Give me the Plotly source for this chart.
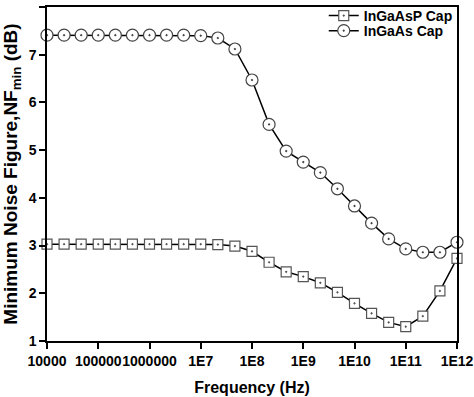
import plotly.graph_objects as go

freq = [1e4, 2.154e4, 4.642e4, 1e5, 2.154e5, 4.642e5, 1e6, 2.154e6, 4.642e6,
        1e7, 2.154e7, 4.642e7, 1e8, 2.154e8, 4.642e8, 1e9, 2.154e9, 4.642e9,
        1e10, 2.154e10, 4.642e10, 1e11, 2.154e11, 4.642e11, 1e12]

ingaasp = [3.03, 3.03, 3.03, 3.03, 3.03, 3.03, 3.03, 3.03, 3.03, 3.03, 3.02,
           2.99, 2.88, 2.65, 2.45, 2.35, 2.22, 2.02, 1.79, 1.58, 1.39, 1.30,
           1.52, 2.05, 2.73]

ingaas = [7.41, 7.41, 7.41, 7.41, 7.41, 7.41, 7.41, 7.41, 7.41, 7.40, 7.35,
          7.12, 6.47, 5.54, 4.98, 4.75, 4.53, 4.19, 3.83, 3.47, 3.14, 2.93,
          2.86, 2.86, 3.07]

tick_vals = [1e4, 1e5, 1e6, 1e7, 1e8, 1e9, 1e10, 1e11, 1e12]
tick_text = ["10000", "100000", "1000000", "1E7", "1E8", "1E9", "1E10", "1E11", "1E12"]

font_family = "Liberation Sans, Arial, sans-serif"

fig = go.Figure()
fig.add_trace(go.Scatter(
    x=freq, y=ingaasp, mode="lines+markers", name="<b>InGaAsP Cap</b>",
    line=dict(color="black", width=1.5),
    marker=dict(symbol="square-dot", size=10, color="white",
                line=dict(color="#555555", width=1.2)),
    cliponaxis=False, legend="legend",
))
fig.add_trace(go.Scatter(
    x=freq, y=ingaas, mode="lines+markers", name="<b>InGaAs Cap</b>",
    line=dict(color="black", width=1.5),
    marker=dict(symbol="circle-dot", size=12, color="white",
                line=dict(color="#444444", width=1.2)),
    cliponaxis=False, legend="legend2",
))

leg_common = dict(x=0.675, xanchor="left", yanchor="middle",
                  bgcolor="rgba(0,0,0,0)", font=dict(size=14),
                  itemwidth=30)

fig.update_layout(
    width=474, height=397,
    margin=dict(l=47, r=17, t=7, b=56, autoexpand=False),
    paper_bgcolor="white", plot_bgcolor="white",
    font=dict(family=font_family, color="black", size=14),
    showlegend=True,
    legend=dict(y=0.973, **leg_common),
    legend2=dict(y=0.928, **leg_common),
)
fig.update_xaxes(
    type="log", range=[4, 12], automargin=False, tickangle=0,
    tickvals=tick_vals, ticktext=["<b>%s</b>" % t for t in tick_text],
    ticks="outside", ticklen=6, tickwidth=1.5, tickcolor="black",
    showline=True, linecolor="black", linewidth=1.5, mirror=True,
    showgrid=False, zeroline=False,
    tickfont=dict(size=14),
    title=dict(text="<b>Frequency (Hz)</b>", font=dict(size=16), standoff=14),
)
fig.update_yaxes(
    range=[1, 8], automargin=False,
    tickvals=[1, 2, 3, 4, 5, 6, 7, 8],
    ticktext=["<b>%d</b>" % v for v in [1, 2, 3, 4, 5, 6, 7, 8]],
    ticks="outside", ticklen=6, tickwidth=1.5, tickcolor="black",
    showline=True, linecolor="black", linewidth=1.5, mirror=True,
    showgrid=False, zeroline=False,
    tickfont=dict(size=14),
    title=dict(text="<b>Minimum Noise Figure,NF<sub>min</sub> (dB)</b>",
               font=dict(size=19), standoff=6),
)

fig.write_html("out.html",
               config={"displayModeBar": False},
               post_script="document.body.style.margin='0';document.body.style.overflow='hidden';")
